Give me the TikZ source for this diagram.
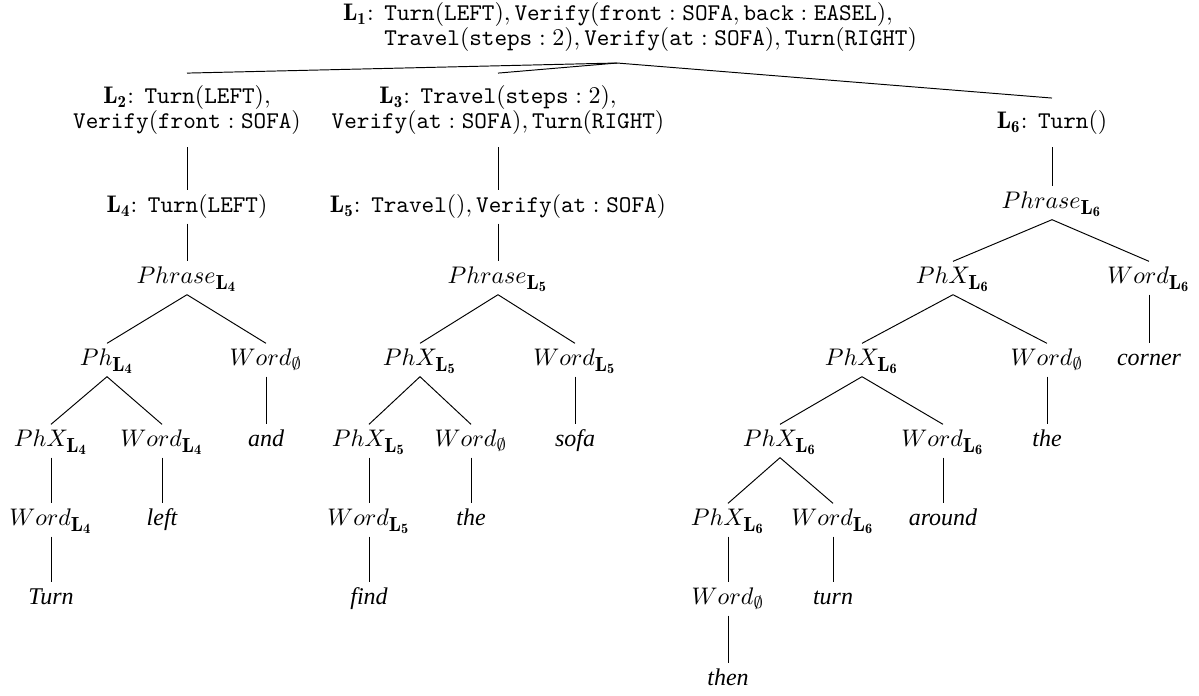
\documentclass[tikz,border=0pt]{standalone}
\usepackage{fontspec}
\newfontfamily\leaffont{Liberation Serif}
\newcommand{\ttm}[1]{\mathtt{#1}}
\newcommand{\Lb}[1]{\mathbf{L_{#1}}}
\newcommand{\Ls}[1]{\mbox{\fontsize{8.5}{9}\selectfont$\mathbf{L_{#1}}$}}
\begin{document}
\begin{tikzpicture}[x=0.4167pt,y=-0.4167pt,
  tn/.style={inner sep=2pt,text height=7pt,text depth=2.5pt},
  lf/.style={tn,font=\leaffont\itshape},
  lab/.style={inner xsep=2pt,inner ysep=5pt,align=center,font=\fontsize{10}{10.4}\selectfont},
  edge/.style={draw=black,line width=0.4pt}]
\useasboundingbox (0,0) rectangle (1199,695);

% top label
\node[inner xsep=2pt,inner ysep=4.5pt,align=left,anchor=south,font=\fontsize{10}{10.4}\selectfont] (L1) at (630,63)
 {$\Lb1$: $\ttm{Turn}(\ttm{LEFT}), \ttm{Verify}(\ttm{front}:\ttm{SOFA}, \ttm{back}:\ttm{EASEL}),$\\
  \phantom{$\Lb1$: }$\ttm{Travel}(\ttm{steps}:2), \ttm{Verify}(\ttm{at}:\ttm{SOFA}), \ttm{Turn}(\ttm{RIGHT})$};
\path (L1.south) ++(-13,0) coordinate (L1b);

% second level labels
\node[lab,anchor=south] (L2) at (187,147) {$\Lb2$: $\ttm{Turn}(\ttm{LEFT}),$\\ $\ttm{Verify}(\ttm{front}:\ttm{SOFA})$};
\node[lab,anchor=south] (L3) at (498,147) {$\Lb3$: $\ttm{Travel}(\ttm{steps}:2),$\\ $\ttm{Verify}(\ttm{at}:\ttm{SOFA}), \ttm{Turn}(\ttm{RIGHT})$};
\node[lab,anchor=south] (L6) at (1052,147) {$\Lb6$: $\ttm{Turn}()$};

% row 2
\node[tn] (L4) at (187,207) {$\Lb4$: $\ttm{Turn}(\ttm{LEFT})$};
\node[tn] (L5) at (498,207) {$\Lb5$: $\ttm{Travel}(), \ttm{Verify}(\ttm{at}:\ttm{SOFA})$};
\node[tn] (P6) at (1052,203) {$Phrase_{\Ls6}$};

% row 3
\node[tn] (P4) at (187,278) {$Phrase_{\Ls4}$};
\node[tn] (P5) at (498,278) {$Phrase_{\Ls5}$};
\node[tn] (X6a) at (953,278) {$PhX_{\Ls6}$};
\node[tn] (W6a) at (1149,278) {$Word_{\Ls6}$};

% row 4
\node[tn] (Ph4) at (107,360) {$Ph_{\Ls4}$};
\node[tn] (We4) at (266,360) {$Word_{\emptyset}$};
\node[tn] (X5a) at (420,360) {$PhX_{\Ls5}$};
\node[tn] (W5a) at (575,360) {$Word_{\Ls5}$};
\node[tn] (X6b) at (862,360) {$PhX_{\Ls6}$};
\node[tn] (We6a) at (1047,360) {$Word_{\emptyset}$};
\node[lf] (corner) at (1149,360) {corner};

% row 5
\node[tn] (X4a) at (51,441) {$PhX_{\Ls4}$};
\node[tn] (W4a) at (162,441) {$Word_{\Ls4}$};
\node[lf] (and) at (266,441) {and};
\node[tn] (X5b) at (369,441) {$PhX_{\Ls5}$};
\node[tn] (We5) at (471,441) {$Word_{\emptyset}$};
\node[lf] (sofa) at (575,441) {sofa};
\node[tn] (X6c) at (780,441) {$PhX_{\Ls6}$};
\node[tn] (W6b) at (943,441) {$Word_{\Ls6}$};
\node[lf] (the1) at (1047,441) {the};

% row 6
\node[tn] (W4b) at (51,520) {$Word_{\Ls4}$};
\node[lf] (left) at (162,520) {left};
\node[tn] (W5b) at (369,520) {$Word_{\Ls5}$};
\node[lf] (the2) at (471,520) {the};
\node[tn] (X6d) at (728,520) {$PhX_{\Ls6}$};
\node[tn] (W6c) at (833,520) {$Word_{\Ls6}$};
\node[lf] (around) at (943,520) {around};

% row 7
\node[lf] (Turn) at (51,599) {Turn};
\node[lf] (find) at (369,599) {find};
\node[tn] (We6b) at (728,599) {$Word_{\emptyset}$};
\node[lf] (turn) at (833,599) {turn};

% row 8
\node[lf] (then) at (728,680) {then};

% connectors
\foreach \a/\b in {L1b/L2,L1b/L3,L1b/L6}
  \draw[edge] (\a) -- (\b.north);
\foreach \a/\b in {L2/L4,L3/L5,L6/P6,L4/P4,L5/P5,
  P4/Ph4,P4/We4,Ph4/X4a,Ph4/W4a,We4/and,X4a/W4b,W4a/left,W4b/Turn,
  P5/X5a,P5/W5a,X5a/X5b,X5a/We5,W5a/sofa,X5b/W5b,We5/the2,W5b/find,
  P6/X6a,P6/W6a,W6a/corner,X6a/X6b,X6a/We6a,We6a/the1,
  X6b/X6c,X6b/W6b,W6b/around,X6c/X6d,X6c/W6c,X6d/We6b,We6b/then,W6c/turn}
  \draw[edge] (\a.south) -- (\b.north);
\end{tikzpicture}
\end{document}
